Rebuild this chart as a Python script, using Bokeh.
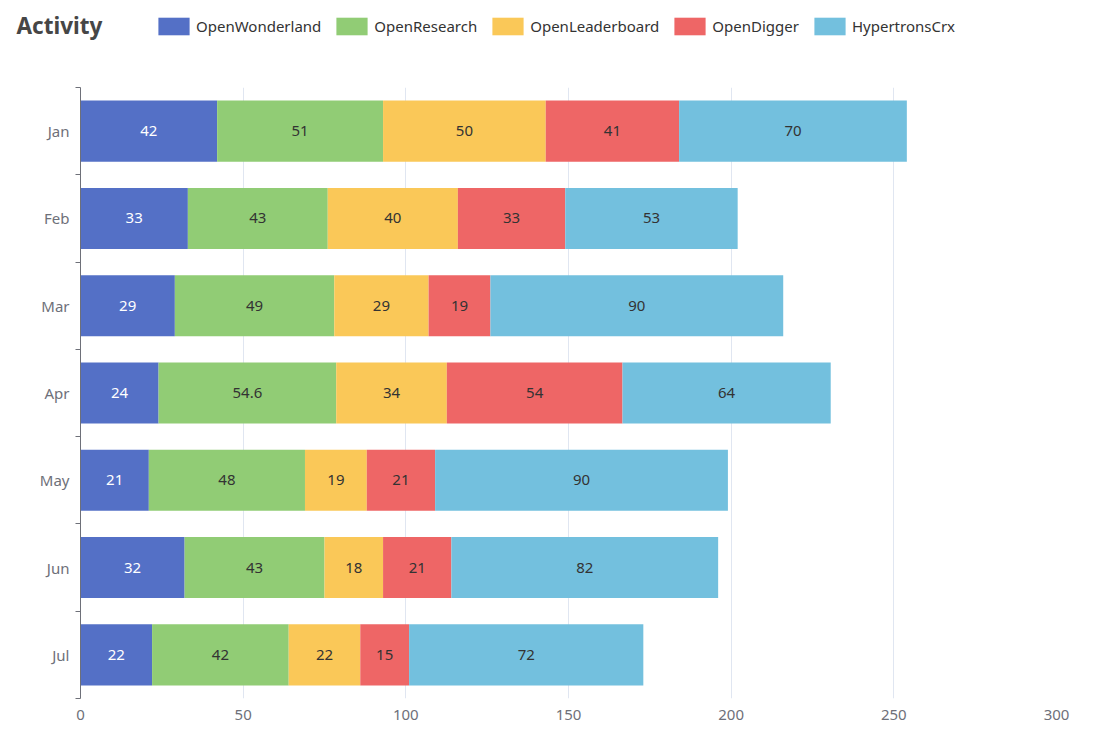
from bokeh.plotting import figure
from bokeh.layouts import column
from bokeh.models import (ColumnDataSource, Range1d, FixedTicker, SingleIntervalTicker,
                          Legend, LegendItem, Label)
from bokeh.core.properties import value
from bokeh.embed import file_html
from bokeh.resources import INLINE
import numpy as np

months = ["Jan", "Feb", "Mar", "Apr", "May", "Jun", "Jul"]
series_names = ["OpenWonderland", "OpenResearch", "OpenLeaderboard", "OpenDigger", "HypertronsCrx"]
open_wonderland = [42, 33, 29, 24, 21, 32, 22]
open_research = [51, 43, 49, 54.6, 48, 43, 42]
open_leaderboard = [50, 40, 29, 34, 19, 18, 22]
open_digger = [41, 33, 19, 54, 21, 21, 15]
hypertrons_crx = [70, 53, 90, 64, 90, 82, 72]
x_max = 300
x_step = 50

colors = ["#5470c6", "#91cc75", "#fac858", "#ee6666", "#73c0de"]
label_colors = ["#ffffff", "#333333", "#333333", "#333333", "#333333"]
FONT = "Noto Sans"
AXIS_COLOR = "#6E7079"

W = 1091
HEAD_H = 80
H = 729 - HEAD_H
BORDER_L, BORDER_R, BORDER_T, BORDER_B = 80, W - 1056, 87 - HEAD_H, 729 - 698

# header: title + legend (own full-width frame so nothing gets clipped)
head = figure(width=W, height=HEAD_H, output_backend="svg", toolbar_location=None,
              x_range=Range1d(0, W), y_range=Range1d(0, HEAD_H),
              x_axis_type=None, y_axis_type=None, min_border=0, title=None)
head.frame_align = False
head.grid.visible = False
head.outline_line_color = None

head.add_layout(Label(x=16, y=HEAD_H - 25, text="Activity", text_font=FONT,
                      text_font_size="22.5px", text_font_style="bold",
                      text_color="#464646", text_baseline="middle"))

items = []
for name, col in zip(series_names, colors):
    # off-screen bar, only used to draw the legend swatch
    r = head.hbar(y=[-100], left=[0], right=[1], height=1, fill_color=col,
                  line_color=None, border_radius=4)
    items.append(LegendItem(label=name, renderers=[r]))

legend = Legend(items=items, orientation="horizontal",
                location=(154, HEAD_H - 36.5),
                glyph_width=39, glyph_height=22, label_height=22,
                label_standoff=3, spacing=11, padding=0, margin=0,
                label_text_font=FONT, label_text_font_size="15px",
                label_text_color="#333333", border_line_color=None,
                background_fill_alpha=0)
head.add_layout(legend, "center")

# main chart
n = len(months)
p = figure(width=W, height=H, output_backend="svg", toolbar_location=None,
           x_range=Range1d(0, x_max), y_range=Range1d(n, 0),
           min_border_left=BORDER_L, min_border_right=BORDER_R,
           min_border_top=BORDER_T, min_border_bottom=BORDER_B)
p.frame_align = False
p.outline_line_color = None

values = [open_wonderland, open_research, open_leaderboard, open_digger, hypertrons_crx]
centers = [i + 0.5 for i in range(n)]
left = np.zeros(n)
for vals, col, lcol in zip(values, colors, label_colors):
    vals = np.array(vals, dtype=float)
    right = left + vals
    src = ColumnDataSource(dict(y=centers, left=left, right=right,
                                mid=(left + right) / 2,
                                txt=[f"{v:g}" for v in vals]))
    p.hbar(y="y", left="left", right="right", height=0.7, source=src,
           fill_color=col, line_color=None)
    p.text(x="mid", y="y", text="txt", source=src, text_align="center",
           text_baseline="middle", text_color=lcol, text_font=value(FONT),
           text_font_size="15px")
    left = right

p.xaxis.ticker = SingleIntervalTicker(interval=x_step)
p.xaxis.axis_line_color = None
p.xaxis.major_tick_line_color = None
p.xaxis.minor_tick_line_color = None
p.xaxis.major_label_text_color = AXIS_COLOR
p.xaxis.major_label_text_font = FONT
p.xaxis.major_label_text_font_size = "15px"
p.xaxis.major_label_standoff = 5

p.yaxis.ticker = FixedTicker(ticks=centers, minor_ticks=list(range(n + 1)))
p.yaxis.major_label_overrides = {c: m for c, m in zip(centers, months)}
p.yaxis.axis_line_color = AXIS_COLOR
p.yaxis.major_tick_in = 0
p.yaxis.major_tick_out = 0
p.yaxis.minor_tick_in = 0
p.yaxis.minor_tick_out = 5
p.yaxis.minor_tick_line_color = AXIS_COLOR
p.yaxis.major_label_text_color = AXIS_COLOR
p.yaxis.major_label_text_font = FONT
p.yaxis.major_label_text_font_size = "15px"
p.yaxis.major_label_standoff = 6

p.xgrid.grid_line_color = "#E0E6F1"
p.ygrid.visible = False

page = column(head, p, spacing=0)
open("out.html", "w").write(file_html(page, INLINE))
